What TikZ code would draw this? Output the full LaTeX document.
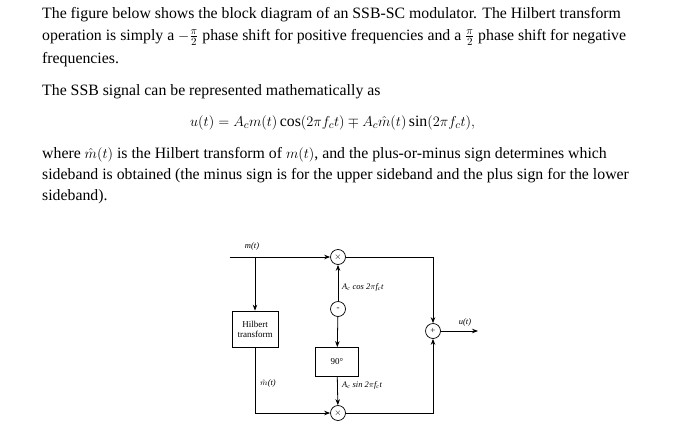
\documentclass[tikz,border=0pt]{standalone}
\usepackage{fontspec}
\setmainfont{Liberation Serif}
\usepackage{amsmath}
\usetikzlibrary{arrows.meta}
\begin{document}
\begin{tikzpicture}[x=1pt,y=-1pt,
  txt/.style={anchor=west,font=\fontsize{15.8}{18}\selectfont,inner sep=0pt},
  lab/.style={font=\fontsize{8.5}{9}\selectfont\itshape,inner sep=1pt},
  op/.style={draw,circle,minimum size=15pt,inner sep=0pt,font=\fontsize{9}{9}\selectfont,line width=0.7pt},
  blk/.style={draw,rectangle,inner sep=0pt,font=\fontsize{9}{10}\selectfont,align=center,line width=0.7pt},
  ar/.style={-{Stealth[length=6pt,width=4.5pt]},line width=0.8pt}]
\useasboundingbox[fill=white] (0,0) rectangle (700,436);
\node[txt] (t1) at (42,15) {The figure below shows the block diagram of an SSB-SC modulator. The Hilbert transform};
\node[txt] (t2) at (42,37) {operation is simply a $-\frac{\pi}{2}$ phase shift for positive frequencies and a $\frac{\pi}{2}$ phase shift for negative};
\node[txt] (t3) at (42,60) {frequencies.};
\node[txt] (t4) at (42,92) {The SSB signal can be represented mathematically as};
\node[txt] (eq) at (190,123) {$u(t) = A_c m(t)\cos(2\pi f_c t) \mp A_c \hat{m}(t)\sin(2\pi f_c t),$};
\node[txt] (t5) at (42,155) {where $\hat{m}(t)$ is the Hilbert transform of $m(t)$, and the plus-or-minus sign determines which};
\node[txt] (t6) at (42,176) {sideband is obtained (the minus sign is for the upper sideband and the plus sign for the lower};
\node[txt] (t7) at (42,197) {sideband).};
% diagram
\coordinate (in) at (230,257);
\coordinate (br) at (255,257);
\node[op] (m1) at (338,257) {$\times$};
\node[op] (m2) at (338,413) {$\times$};
\node[op] (osc) at (338,309) {-};
\node[op] (sum) at (433,331) {+};
\node[blk,minimum width=46pt,minimum height=36pt] (hil) at (255,329) {Hilbert\\transform};
\node[blk,minimum width=43pt,minimum height=29pt] (ph) at (337,362) {90°};
\coordinate (hb) at (255,413);
\coordinate (c1) at (433,257);
\coordinate (c2) at (433,413);
\coordinate (out) at (478,331);
\draw[ar] (in) -- (m1);
\draw[ar] (br) -- (hil);
\draw[ar] (hil.south) -- (hb) -- (m2);
\draw[ar] (osc) -- (m1);
\draw[ar] (osc) -- (ph);
\draw[ar] (ph) -- (m2);
\draw[ar] (m1) -- (c1) -- (sum);
\draw[ar] (m2) -- (c2) -- (sum);
\draw[ar] (sum) -- (out);
\node[lab] (lm) at (252,246) {m(t)};
\node[lab] (lmh) at (268,383) {$\hat{m}$(t)};
\node[lab,anchor=west] (lc) at (341,287) {A\textsubscript{c} cos 2$\pi$f\textsubscript{c}t};
\node[lab,anchor=west] (ls) at (341,385) {A\textsubscript{c} sin 2$\pi$f\textsubscript{c}t};
\node[lab] (lu) at (465,322) {u(t)};
\end{tikzpicture}
\end{document}
